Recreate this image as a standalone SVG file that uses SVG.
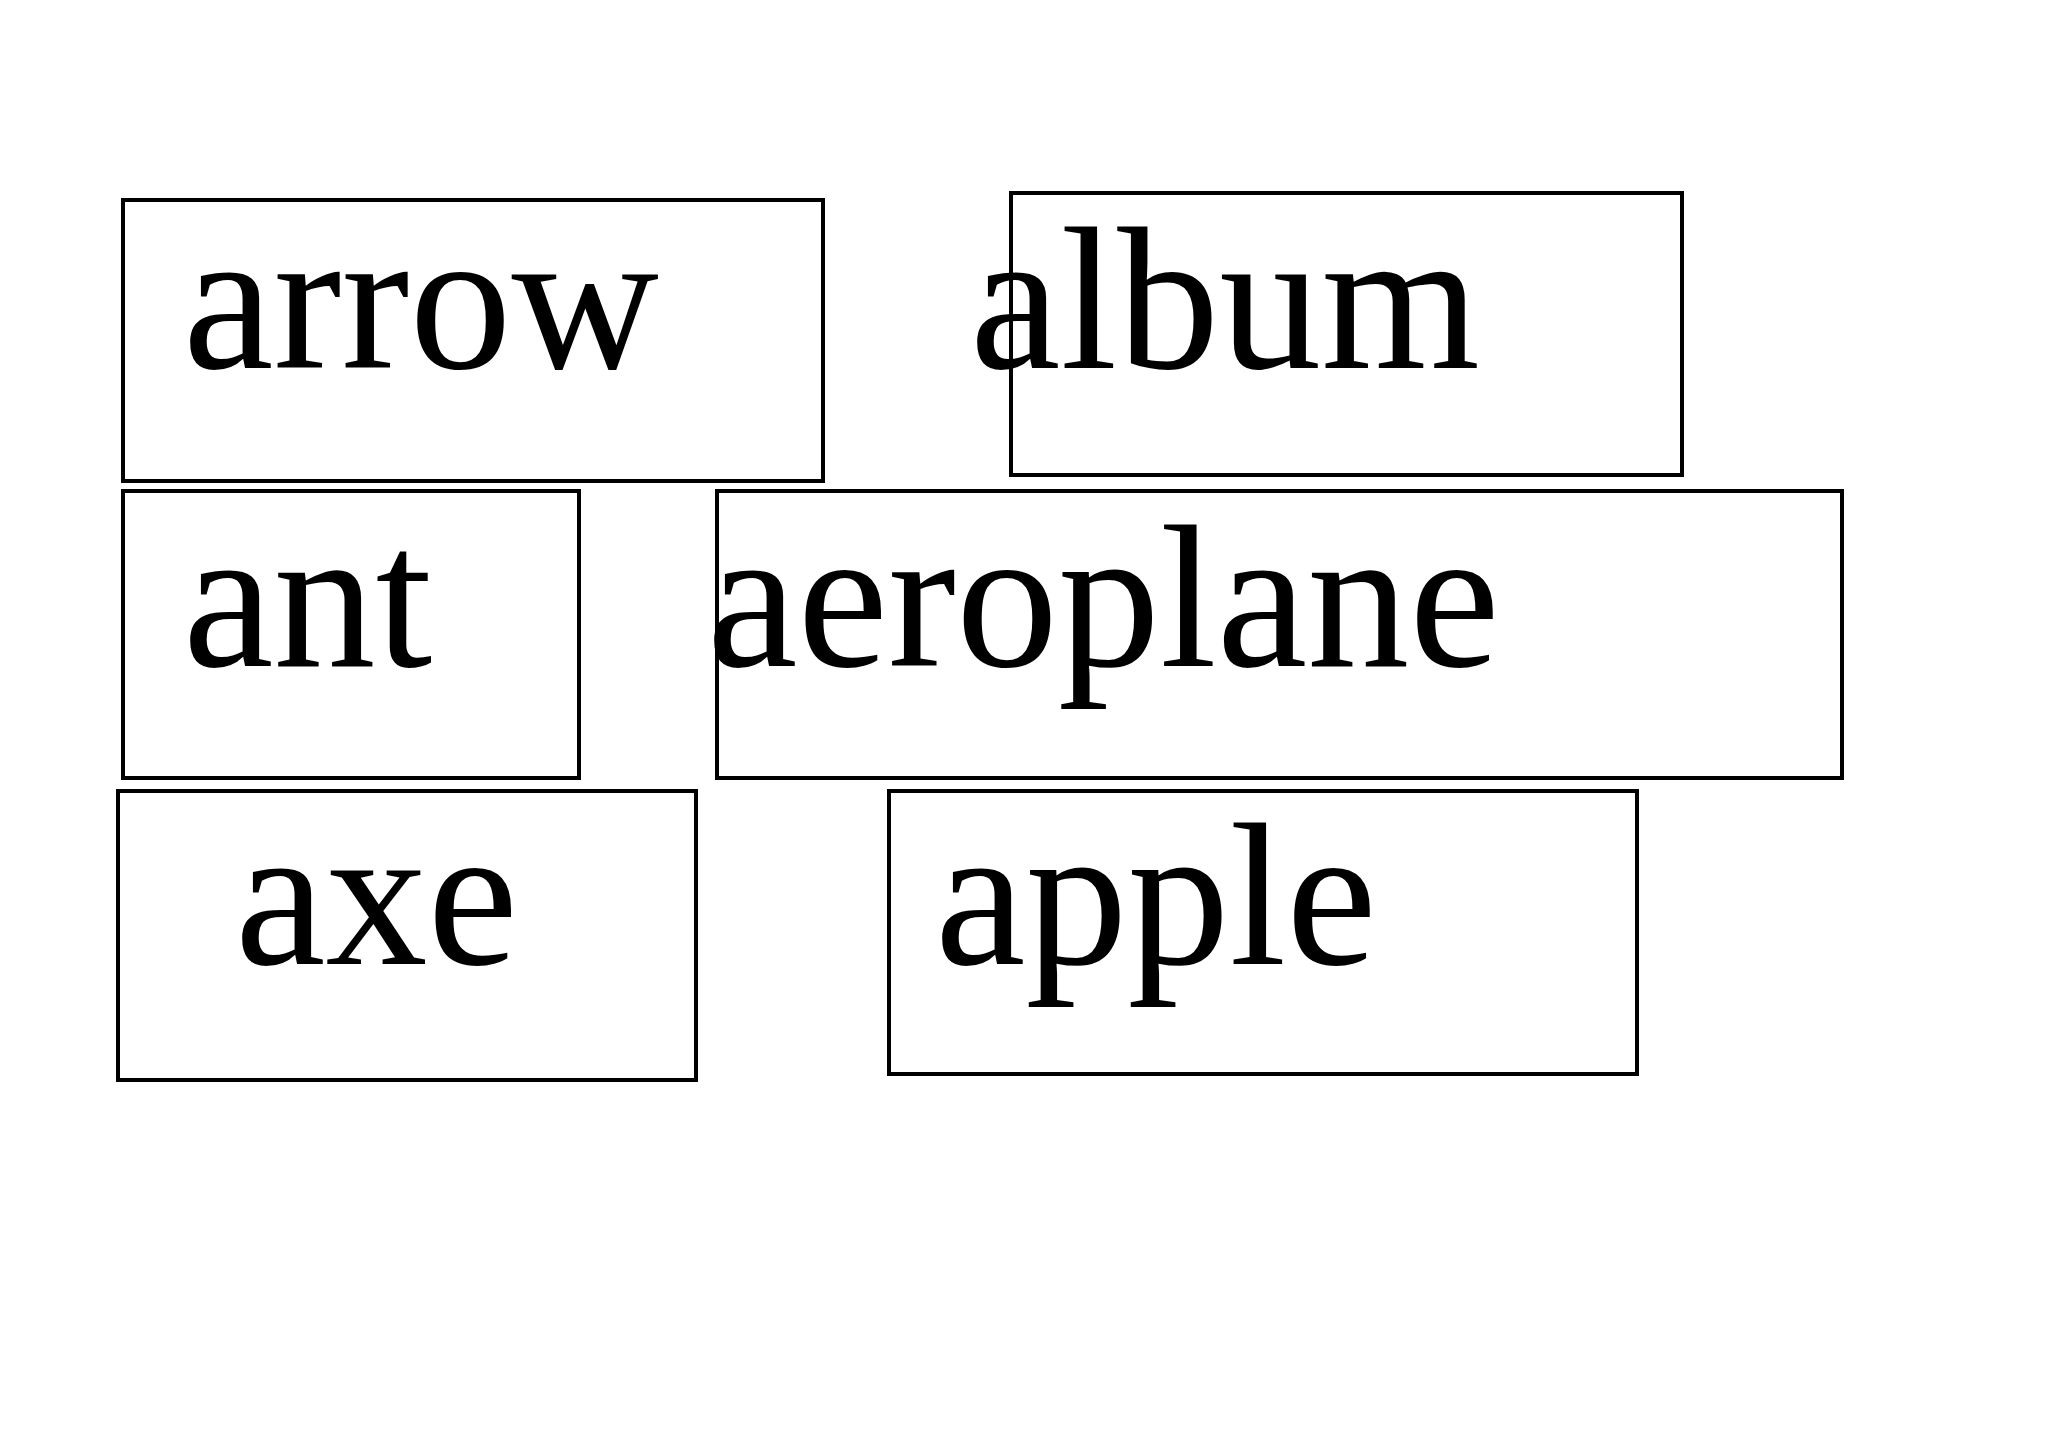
<svg xmlns="http://www.w3.org/2000/svg" width="2048" height="1447" viewBox="0 0 2048 1447">
<style>
rect{fill:none;stroke:#000;stroke-width:4}
text{font-family:"Liberation Serif",serif;font-size:204px;fill:#000}
</style>
<rect x="0" y="0" width="2048" height="1447" style="fill:#fff;stroke:none"/>
<g id="arrow"><rect x="123" y="200" width="700" height="281"/><text x="183" y="368">arrow</text></g>
<g id="album"><rect x="1011" y="193" width="671" height="282"/><text x="970" y="368">album</text></g>
<g id="ant"><rect x="123" y="491" width="456" height="287"/><text x="183" y="666">ant</text></g>
<g id="aeroplane"><rect x="717" y="491" width="1125" height="287"/><text x="707" y="666">aeroplane</text></g>
<g id="axe"><rect x="118" y="791" width="578" height="289"/><text x="235" y="964">axe</text></g>
<g id="apple"><rect x="889" y="791" width="748" height="283"/><text x="935" y="964">apple</text></g>
<g id="connectors"/>
</svg>
